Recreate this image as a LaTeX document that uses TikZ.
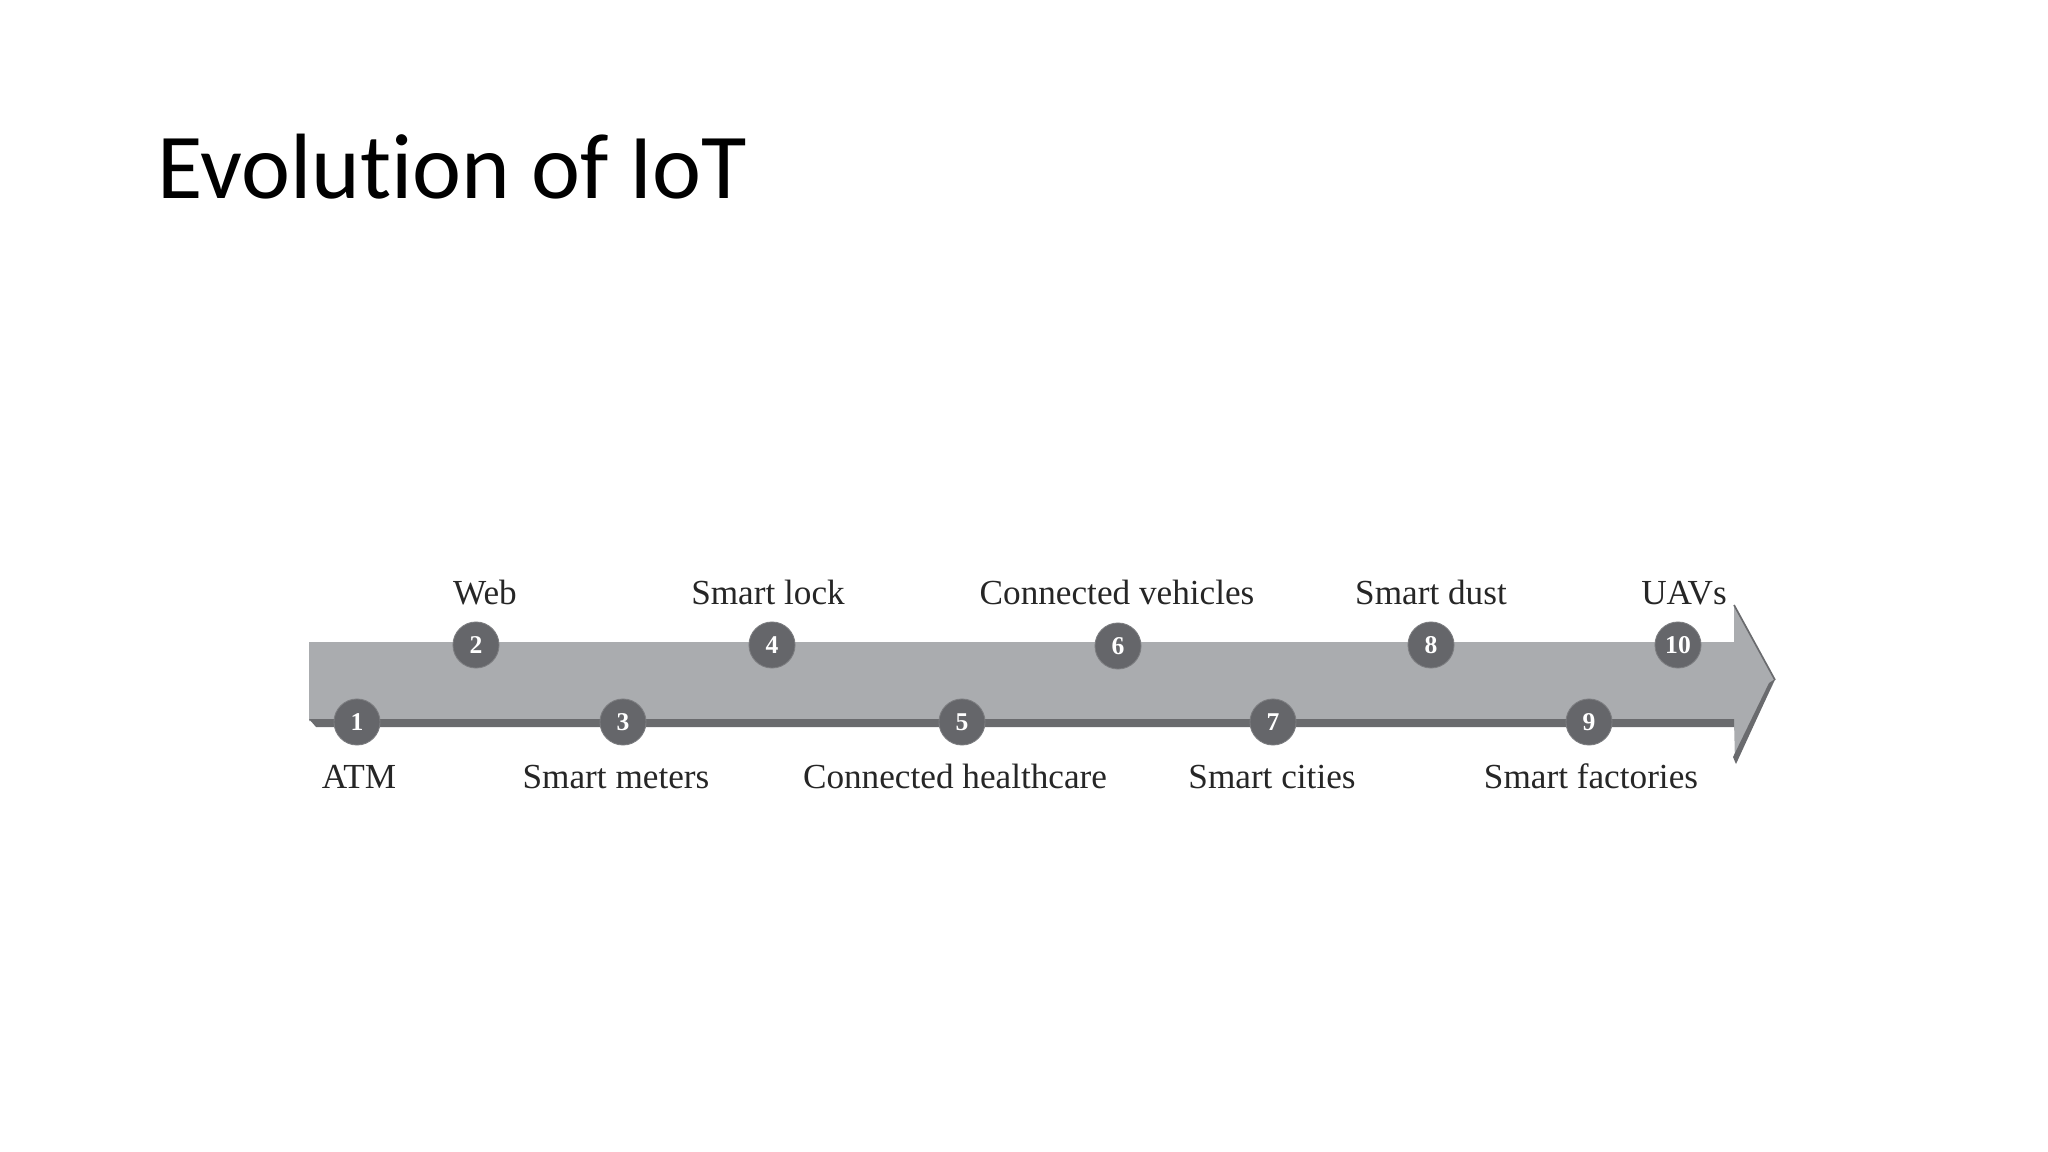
\documentclass[tikz,border=0pt]{standalone}
\usepackage{fontspec}
\setmainfont{Liberation Serif}
\newfontfamily\titlefont[Ligatures=NoCommon]{Carlito}
\usetikzlibrary{positioning}
\definecolor{bodygray}{HTML}{AAACAF}
\definecolor{edgegray}{HTML}{6A6B6E}
\definecolor{dotgray}{HTML}{65666A}
\tikzstyle{numdot}=[circle, fill=dotgray, draw=dotgray!85!white, minimum size=21.6pt, inner sep=0pt, text=white, font=\fontsize{12}{12}\selectfont\bfseries]
\tikzstyle{milestone}=[anchor=base, inner sep=0pt, text=black!85, font=\fontsize{16.5}{18}\selectfont]

\begin{document}
\begin{tikzpicture}[x=0.46875pt,y=-0.46875pt]
\useasboundingbox (0,0) rectangle (2048,1152);
\node (title) [anchor=base west, inner sep=0pt, font=\titlefont\fontsize{43.5}{48}\selectfont] at (157,199) {Evolution of IoT};
% timeline arrow
\fill[bodygray] (309,642) -- (1734,642) -- (1734,605) -- (1775,680) -- (1735,763) -- (1734,721) -- (309,721) -- cycle;
\fill[edgegray] (309,719) -- (1734,719) -- (1734,727) -- (316,727) -- cycle;
\fill[edgegray] (1775,679) -- (1736,764) -- (1733,757) -- (1769,683) -- cycle;
\draw[edgegray, line width=0.8pt] (1734,605) -- (1775,680);
% milestones
\node (n1) [numdot] at (357,722) {1};
\node (n2) [numdot] at (476,645) {2};
\node (n3) [numdot] at (623,722) {3};
\node (n4) [numdot] at (772,645) {4};
\node (n5) [numdot] at (962,722) {5};
\node (n6) [numdot] at (1118,646) {6};
\node (n7) [numdot] at (1273,722) {7};
\node (n8) [numdot] at (1431,645) {8};
\node (n9) [numdot] at (1589,722) {9};
\node (n10) [numdot] at (1678,645) {10};
\node (web) [milestone] at (485,604) {Web};
\node (lock) [milestone] at (768,604) {Smart lock};
\node (vehicles) [milestone] at (1117,604) {Connected vehicles};
\node (dust) [milestone] at (1431,604) {Smart dust};
\node (uav) [milestone] at (1684,604) {UAVs};
\node (atm) [milestone] at (359,788) {ATM};
\node (meters) [milestone] at (616,788) {Smart meters};
\node (health) [milestone] at (955,788) {Connected healthcare};
\node (cities) [milestone] at (1272,788) {Smart cities};
\node (factories) [milestone] at (1591,788) {Smart factories};
\end{tikzpicture}
\end{document}
